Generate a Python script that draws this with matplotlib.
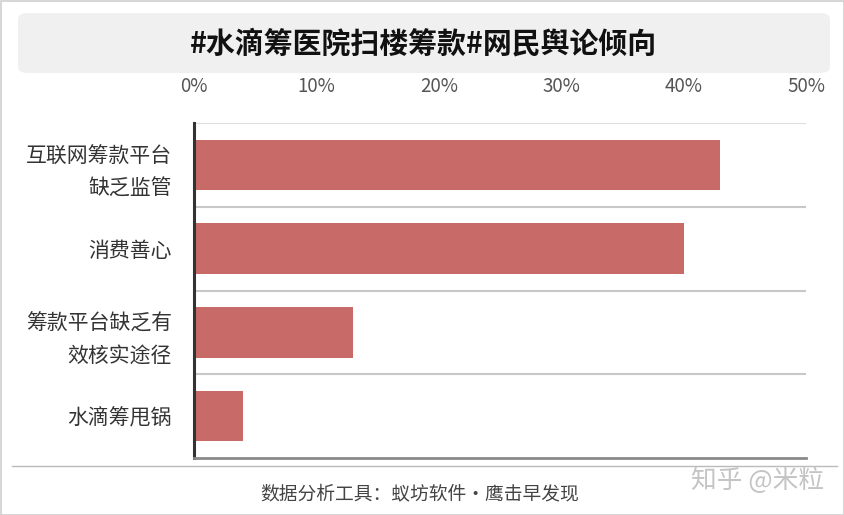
import matplotlib.pyplot as plt
from matplotlib.patches import FancyBboxPatch, Rectangle
from matplotlib.ticker import FuncFormatter

plt.rcParams['font.family'] = ['Noto Sans CJK SC', 'DejaVu Sans']

# data
categories = ["互联网筹款平台\n缺乏监管", "消费善心", "筹款平台缺乏有\n效核实途径", "水滴筹甩锅"]
shares = [43, 40, 13, 4]
x_ticks = [0, 10, 20, 30, 40, 50]

title = "#水滴筹医院扫楼筹款#网民舆论倾向"
footer = "数据分析工具：蚁坊软件・鹰击早发现"
watermark = "知乎 @米粒"

W, H = 845, 515
fig = plt.figure(figsize=(W / 100, H / 100), dpi=100, facecolor='white')

# outer frame
fig.patches.append(Rectangle((0.5 / W, 0.5 / H), 1 - 1.5 / W, 1 - 1.5 / H, transform=fig.transFigure,
                             fill=False, edgecolor='#d0d0d0', linewidth=1.2))

# title box
fig.patches.append(FancyBboxPatch((18 / W, (H - 73) / H), (830 - 18) / W, 60 / H,
                                  boxstyle="round,pad=0,rounding_size=0.012",
                                  transform=fig.transFigure, facecolor='#f0f0f0', edgecolor='none'))
fig.text(423 / W, 1 - 44 / H, title, ha='center', va='center', fontsize=20.8,
         fontweight='bold', color='#111111')

ax = fig.add_axes([194 / W, 57 / H, (806 - 194) / W, (458 - 123) / H])
y = list(range(len(categories)))
ax.barh(y, shares, height=0.6, color='#c86a68')
ax.set_ylim(len(categories) - 0.5, -0.5)
ax.set_xlim(0, 50)

# category separators
for b in [-0.5, 0.5, 1.5, 2.5]:
    ax.axhline(b, color='#dddddd' if b < 0 else '#c8c8c8', linewidth=1.5, zorder=0)

ax.xaxis.tick_top()
ax.set_xticks(x_ticks)
ax.xaxis.set_major_formatter(FuncFormatter(lambda v, p: f"{v:.0f}%"))
ax.tick_params(axis='x', length=0, pad=19, labelsize=13.5, labelcolor='#555555')
ax.set_yticks(y)
ax.set_yticklabels(categories, fontsize=15, color='#333333', linespacing=1.6)
ax.tick_params(axis='y', length=0, pad=16)

for s in ['top', 'right']:
    ax.spines[s].set_visible(False)
ax.spines['left'].set_color('#333333')
ax.spines['left'].set_linewidth(2.2)
ax.spines['bottom'].set_color('#8a8a8a')
ax.spines['bottom'].set_linewidth(2)

# footer
fig.add_artist(plt.Line2D([12 / W, 837 / W], [1 - 466 / H] * 2, transform=fig.transFigure,
                          color='#bbbbbb', linewidth=1))
fig.text(420 / W, 1 - 494 / H, footer, ha='center', va='center', fontsize=13.5, color='#444444')
fig.text(758 / W, 1 - 481 / H, watermark, ha='center', va='center', fontsize=18.5, color='#c4c4c4')

fig.savefig('out.png', dpi=100, facecolor='white')
